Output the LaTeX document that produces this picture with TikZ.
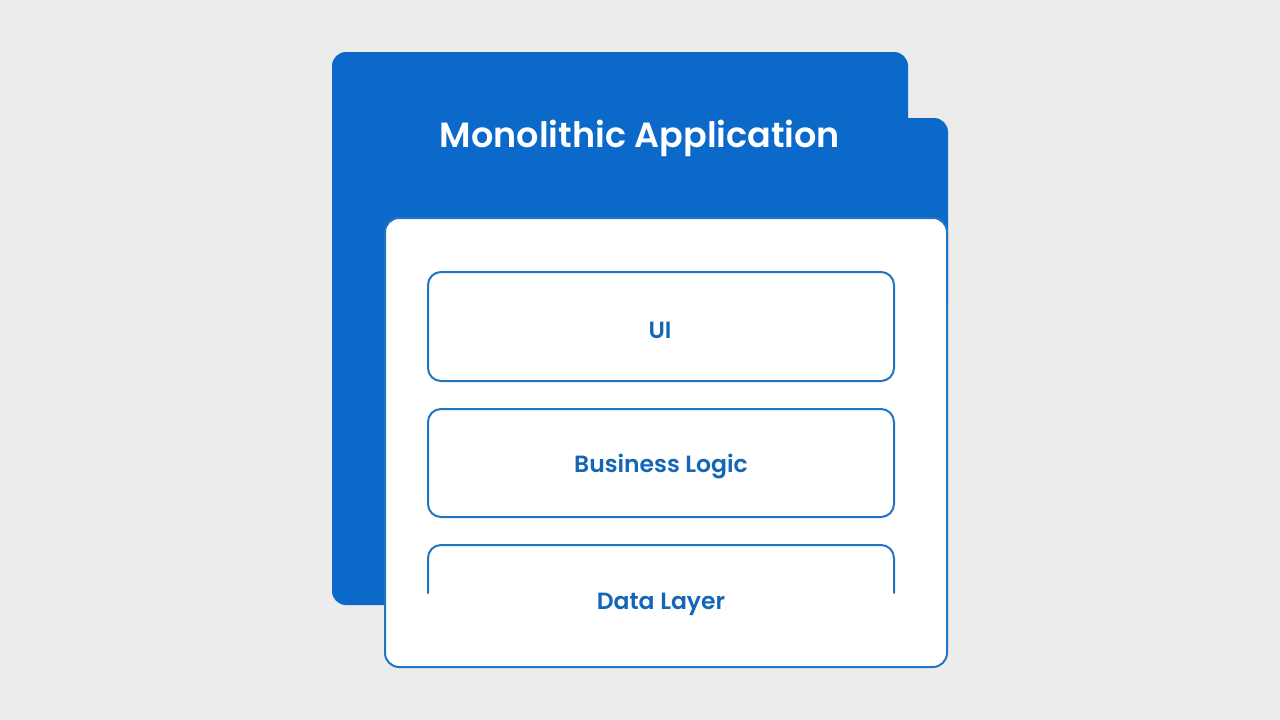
\documentclass[tikz,border=0pt]{standalone}
\usepackage{fontspec}
\setmainfont{Open Sans}
\newfontfamily\titlefont{Poppins}[UprightFont=* SemiBold,BoldFont=* SemiBold]
\definecolor{bg}{HTML}{ECECEC}
\definecolor{mainblue}{HTML}{0B69CA}
\definecolor{lineblue}{HTML}{2274C4}
\definecolor{textblue}{HTML}{1466B8}
\begin{document}
\begin{tikzpicture}[x=1pt,y=-1pt,
  layerbox/.style={draw=lineblue,line width=2pt,rounded corners=13pt},
  layertext/.style={text=textblue,font=\titlefont\fontsize{23.5}{27}\selectfont}]
\fill[bg] (0,0) rectangle (1280,720);
\useasboundingbox (0,0) rectangle (1280,720);
% blue backplates
\fill[mainblue,rounded corners=14pt] (332,52) rectangle (908,605);
\fill[mainblue,rounded corners=14pt] (880,118) rectangle (948,320);
\fill[mainblue] (880,140) rectangle (908,320);
\node[text=white,font=\titlefont\fontsize{35}{40}\selectfont] (title) at (640,138) {Monolithic Application};
% white panel
\draw[fill=white,draw=lineblue,line width=2pt,rounded corners=14pt] (385,218) rectangle (947,667);
% layers
\draw[layerbox] (428,272) rectangle (894,381);
\node[layertext] (ui) at (660,330) {UI};
\draw[layerbox] (428,409) rectangle (894,517);
\node[layertext] (bl) at (661,466) {Business Logic};
\draw[layerbox,line cap=round] (428,593) -- (428,545) -- (894,545) -- (894,593);
\node[layertext] (dl) at (661,604) {Data Layer};
\end{tikzpicture}
\end{document}
